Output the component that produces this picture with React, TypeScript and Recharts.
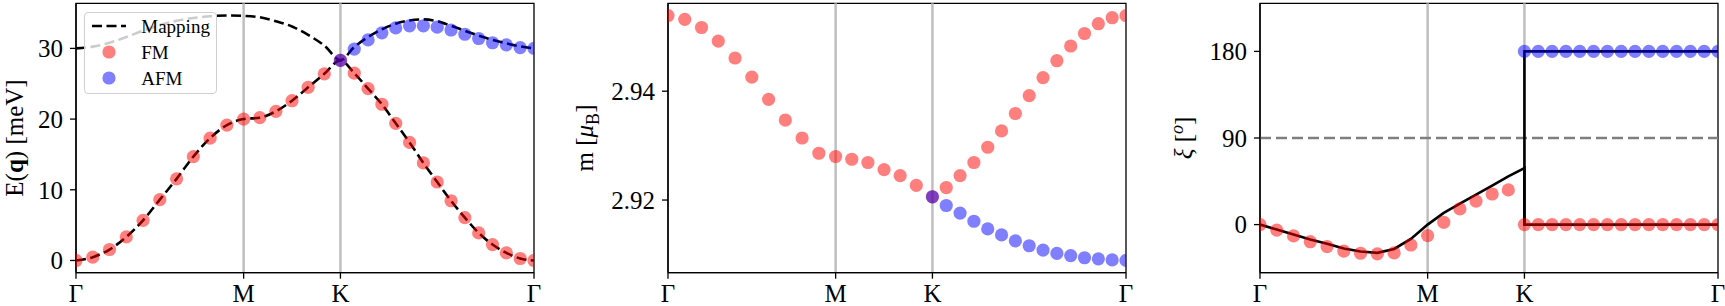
import React from "react";
import { ComposedChart, Line, Scatter, XAxis, YAxis, ReferenceLine, ReferenceArea } from "recharts";

const FONT = "'Liberation Serif', 'DejaVu Serif', serif";

// high-symmetry path Γ-M-K-Γ (ΓM = 0.5)
const pathNodes = [0, 0.5, 0.5 + 0.5 / Math.sqrt(3), 0.5 + 1.5 / Math.sqrt(3)];
const pathLabels = ["Γ", "M", "K", "Γ"];

// E(q) [meV]
const energyFmGM = [0, 0.47, 1.55, 3.33, 5.68, 8.6, 11.55, 14.7, 17.3, 19.15, 20.0];
const energyFmMK = [20.0, 20.2, 21.1, 22.6, 24.5, 26.4, 28.3];
const energyFmKG = [28.3, 26.5, 24.3, 22.1, 19.4, 16.7, 13.8, 11.1, 8.45, 6.06, 3.9, 2.25, 1.08, 0.28, 0];
const energyAfmKG = [28.3, 29.9, 31.2, 32.2, 32.9, 33.2, 33.2, 33.0, 32.6, 32.0, 31.4, 30.8, 30.5, 30.1, 30.0];
const mappingUpGM = [30.0, 30.25, 30.8, 31.6, 32.5, 33.3, 33.9, 34.3, 34.55, 34.65, 34.6];
const mappingUpMK = [34.6, 34.4, 33.85, 33.1, 31.9, 30.4, 28.35];
const mappingUpKG = [28.3, 30.2, 31.6, 32.7, 33.5, 33.95, 34.1, 33.85, 33.2, 32.5, 31.8, 31.2, 30.7, 30.3, 30.0];
const energyTicks = [0, 10, 20, 30];

// m [muB]
const momentFmGM = [2.9539, 2.9532, 2.9517, 2.9492, 2.9461, 2.9426, 2.9385, 2.9347, 2.9314, 2.9286, 2.928];
const momentFmMK = [2.928, 2.9275, 2.9269, 2.9256, 2.9245, 2.9227, 2.9206];
const momentFmKG = [2.9206, 2.9223, 2.9245, 2.9269, 2.9297, 2.9327, 2.9359, 2.9392, 2.9425, 2.9456, 2.9483, 2.9506, 2.9524, 2.9535, 2.9539];
const momentAfmKG = [2.9206, 2.919, 2.9176, 2.9161, 2.9147, 2.9136, 2.9125, 2.9116, 2.9108, 2.9102, 2.9098, 2.9094, 2.9092, 2.909, 2.9089];
const momentTicks = [2.92, 2.94];

// xi [deg]
const xiFmGM = [0, -5.7, -11.8, -17.8, -22.8, -27.5, -29.8, -30.5, -29.4, -21.2, -11.4];
const xiFmMK = [-11.4, 2.4, 16.3, 24.4, 31.8, 36.0, 0];
const xiFmKG = [0, 0, 0, 0, 0, 0, 0, 0, 0, 0, 0, 0, 0, 0, 0];
const xiAfmKG = [180, 180, 180, 180, 180, 180, 180, 180, 180, 180, 180, 180, 180, 180, 180];
const xiMapGM = [0, -5.2, -10.4, -15.6, -20, -24.9, -28, -29.4, -25.3, -14.9, 0];
const xiMapMK = [0, 12.1, 21.8, 31.1, 40.5, 50.2, 58.8];
const xiMapLevels = [0, 180];
const xiTicks = [0, 90, 180];

type Pt = { x: number; y: number };

function seg(values: number[], from: number, to: number): Pt[] {
  const n = values.length - 1;
  return values.map((y, i) => ({ x: from + ((to - from) * i) / n, y }));
}

function path(gm: number[], mk: number[], kg: number[]): Pt[] {
  return [
    ...seg(gm, pathNodes[0], pathNodes[1]),
    ...seg(mk, pathNodes[1], pathNodes[2]).slice(1),
    ...seg(kg, pathNodes[2], pathNodes[3]).slice(1),
  ];
}

const K = pathNodes[2];
const END = pathNodes[3];

const dot = (color: string) => (p: any) => (
  <circle cx={p.cx} cy={p.cy} r={6.6} fill={color} fillOpacity={0.5} />
);

const YTitle = ({ bx, children }: { bx: number; children?: React.ReactNode }) => (
  <text
    x={bx}
    y={138}
    transform={`rotate(-90 ${bx} 138)`}
    textAnchor="middle"
    fontSize={25}
    fontFamily={FONT}
    fill="#000"
  >
    {children}
  </text>
);

const W = 458;
const CH = 306;
const YW = 110;

function Panel({
  left,
  domain,
  ticks,
  fmt,
  title,
  children,
}: {
  left: number;
  domain: [number, number];
  ticks: number[];
  fmt: (v: number) => string;
  title: React.ReactElement;
  children: React.ReactNode;
}) {
  return (
    <div style={{ position: "absolute", left: left - YW, top: 0 }}>
      <ComposedChart width={YW + W + 12} height={CH} margin={{ top: 3.3, right: 12, bottom: 0, left: 0 }}>
        <XAxis
          dataKey="x"
          type="number"
          domain={[0, END]}
          ticks={pathNodes}
          interval={0}
          allowDataOverflow
          height={33.3}
          tickFormatter={(v: number) => pathLabels[pathNodes.findIndex((n) => Math.abs(n - v) < 1e-6)] ?? ""}
          tick={{ fill: "#000", fontSize: 25, fontFamily: FONT }}
          tickLine={{ stroke: "#000", strokeWidth: 1.3 }}
          axisLine={{ stroke: "#000", strokeWidth: 1.3 }}
          tickSize={6}
          tickMargin={6}
        />
        <YAxis
          dataKey="y"
          type="number"
          domain={domain}
          ticks={ticks}
          interval={0}
          allowDataOverflow
          width={YW}
          tickFormatter={fmt}
          tick={{ fill: "#000", fontSize: 25, fontFamily: FONT }}
          tickLine={{ stroke: "#000", strokeWidth: 1.3 }}
          axisLine={{ stroke: "#000", strokeWidth: 1.3 }}
          tickSize={6}
          tickMargin={7}
          label={title}
        />
        <ReferenceLine x={pathNodes[1]} stroke="#bfbfbf" strokeWidth={2.5} />
        <ReferenceLine x={pathNodes[2]} stroke="#bfbfbf" strokeWidth={2.5} />
        {children}
        <ReferenceArea x1={0} x2={END} y1={domain[0]} y2={domain[1]} fill="none" stroke="#000" strokeWidth={1.3} ifOverflow="visible" />
      </ComposedChart>
    </div>
  );
}

export default function App() {
  const eFm = path(energyFmGM, energyFmMK, energyFmKG);
  const eAfm = seg(energyAfmKG, K, END);
  const eMapUp = path(mappingUpGM, mappingUpMK, mappingUpKG);

  const mFm = path(momentFmGM, momentFmMK, momentFmKG);
  const mAfm = seg(momentAfmKG, K, END);

  const xFm = path(xiFmGM, xiFmMK, xiFmKG);
  const xAfm = seg(xiAfmKG, K, END);
  const xMap = [...seg(xiMapGM, 0, pathNodes[1]), ...seg(xiMapMK, pathNodes[1], K).slice(1), { x: K, y: xiMapLevels[0] }, { x: END, y: xiMapLevels[0] }];
  const xMapHi = [{ x: K, y: xiMapLevels[0] }, { x: K, y: xiMapLevels[1] }, { x: END, y: xiMapLevels[1] }];

  return (
    <div style={{ position: "absolute", left: 0, top: 0, width: 1725, height: 306, background: "#fff", overflow: "hidden" }}>
      <Panel
        left={75.5}
        domain={[-1.73, 36.38]}
        ticks={energyTicks}
        fmt={(v) => String(v)}
        title={
          <YTitle bx={56.5}>
            E(<tspan fontWeight="bold">q</tspan>) [meV]
          </YTitle>
        }
      >
        <Line data={eMapUp} dataKey="y" type="monotone" stroke="#000" strokeWidth={2.6} strokeDasharray="10 4.5" dot={false} activeDot={false} isAnimationActive={false} />
        <Line data={eFm} dataKey="y" type="monotone" stroke="#000" strokeWidth={2.6} strokeDasharray="10 4.5" dot={false} activeDot={false} isAnimationActive={false} />
        <Scatter data={eFm} shape={dot("#ff0000")} isAnimationActive={false} />
        <Scatter data={eAfm} shape={dot("#0000ff")} isAnimationActive={false} />
      </Panel>

      <Panel
        left={667.5}
        domain={[2.90665, 2.95615]}
        ticks={momentTicks}
        fmt={(v) => v.toFixed(2)}
        title={
          <YTitle bx={35}>
            m [<tspan fontStyle="italic">μ</tspan>
            <tspan fontSize={18} dy={6}>B</tspan>
            <tspan dy={-6}>]</tspan>
          </YTitle>
        }
      >
        <Scatter data={mFm} shape={dot("#ff0000")} isAnimationActive={false} />
        <Scatter data={mAfm} shape={dot("#0000ff")} isAnimationActive={false} />
      </Panel>

      <Panel
        left={1259.5}
        domain={[-50, 230]}
        ticks={xiTicks}
        fmt={(v) => String(v)}
        title={
          <YTitle bx={41.5}>
            <tspan fontStyle="italic">ξ</tspan> [<tspan fontStyle="italic" fontSize={18} dy={-9}>o</tspan>
            <tspan dy={9}>]</tspan>
          </YTitle>
        }
      >
        <ReferenceLine y={90} stroke="#808080" strokeWidth={2.5} strokeDasharray="11 5" />
        <Scatter data={xFm} shape={dot("#ff0000")} isAnimationActive={false} />
        <Scatter data={xAfm} shape={dot("#0000ff")} isAnimationActive={false} />
        <Line data={xMap} dataKey="y" type="linear" stroke="#000" strokeWidth={2.6} dot={false} activeDot={false} isAnimationActive={false} />
        <Line data={xMapHi} dataKey="y" type="linear" stroke="#000" strokeWidth={2.6} dot={false} activeDot={false} isAnimationActive={false} />
      </Panel>

      <div
        style={{
          position: "absolute",
          left: 83.7,
          top: 12.3,
          width: 133.3,
          height: 82,
          boxSizing: "border-box",
          border: "1px solid #d0d0d0",
          borderRadius: 4,
          background: "rgba(255,255,255,0.8)",
          zIndex: 5,
        }}
      >
        <svg width={133} height={82} style={{ position: "absolute", left: -1, top: -1 }}>
          <line x1={8} x2={42} y1={14} y2={14} stroke="#000" strokeWidth={2.6} strokeDasharray="10 4.5" />
          <circle cx={25} cy={40} r={6.6} fill="#ff0000" fillOpacity={0.5} />
          <circle cx={25} cy={66} r={6.6} fill="#0000ff" fillOpacity={0.5} />
          <g fontFamily={FONT} fontSize={19} fill="#000">
            <text x={57.3} y={20.5}>Mapping</text>
            <text x={57.3} y={46.5}>FM</text>
            <text x={57.3} y={72.5}>AFM</text>
          </g>
        </svg>
      </div>
    </div>
  );
}
